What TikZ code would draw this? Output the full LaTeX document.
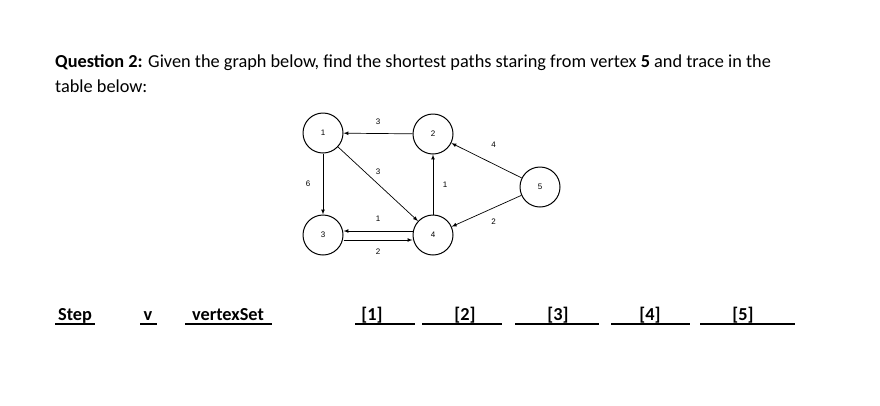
\documentclass[tikz,border=0pt]{standalone}
\usepackage{fontspec}
\setmainfont{Carlito}
\newfontfamily\gfont{Liberation Sans}
\begin{document}
\begin{tikzpicture}[x=1pt,y=-1pt,
  vert/.style={circle,draw,line width=1pt,minimum size=40pt,inner sep=0pt,font=\gfont\fontsize{8}{9}\selectfont,fill=white},
  edge/.style={-latex,line width=0.7pt},
  wt/.style={font=\gfont\fontsize{8}{9}\selectfont},
  txt/.style={anchor=base west,inner sep=0pt,font=\fontsize{18.3}{21}\selectfont},
  hd/.style={anchor=base,inner sep=0pt,font=\bfseries\fontsize{18.3}{21}\selectfont},
  ul/.style={line width=1.2pt}]
\useasboundingbox (0,0) rectangle (880,405);
\node[txt] (t1) at (55,67) {\textbf{Question 2:} Given the graph below, find the shortest paths staring from vertex \textbf{5} and trace in the};
\node[txt] (t2) at (55,92) {table below:};
\node[vert] (n1) at (323,133) {1};
\node[vert] (n2) at (433,134) {2};
\node[vert] (n5) at (540,187) {5};
\node[vert] (n3) at (323,235) {3};
\node[vert] (n4) at (433,235) {4};
\draw[edge] (n2) -- node[wt,yshift=12pt]{3} (n1);
\draw[edge] (n1) -- node[wt,xshift=-15pt]{6} (n3);
\draw[edge] (n1) -- node[wt,yshift=12pt]{3} (n4);
\draw[edge] (n4) -- node[wt,xshift=12pt]{1} (n2);
\draw[edge] (n5) -- node[wt,xshift=7pt,yshift=16pt]{4} (n2);
\draw[edge] (n5) -- node[wt,xshift=7pt,yshift=-11pt]{2} (n4);
\draw[edge] ([yshift=4pt]n4.west) -- node[wt,yshift=12pt]{1} ([yshift=4pt]n3.east);
\draw[edge] ([yshift=-5pt]n3.east) -- node[wt,yshift=-12pt]{2} ([yshift=-5pt]n4.west);
\node[hd] (h1) at (75,320) {Step};
\node[hd] (h2) at (148,320) {v};
\node[hd] (h3) at (228,320) {vertexSet};
\node[hd] (h4) at (372,320) {[1]};
\node[hd] (h5) at (465,320) {[2]};
\node[hd] (h6) at (558,320) {[3]};
\node[hd] (h7) at (650,320) {[4]};
\node[hd] (h8) at (743,320) {[5]};
\coordinate (u1a) at (55,324); \coordinate (u1b) at (95,324);
\coordinate (u2a) at (140,324); \coordinate (u2b) at (157,324);
\coordinate (u3a) at (185,324); \coordinate (u3b) at (272,324);
\coordinate (u4a) at (355,324); \coordinate (u4b) at (415,324);
\coordinate (u5a) at (422,324); \coordinate (u5b) at (502,324);
\coordinate (u6a) at (515,324); \coordinate (u6b) at (599,324);
\coordinate (u7a) at (611,324); \coordinate (u7b) at (690,324);
\coordinate (u8a) at (700,324); \coordinate (u8b) at (795,324);
\foreach \i in {1,...,8} \draw[ul] (u\i a) -- (u\i b);
\end{tikzpicture}
\end{document}
